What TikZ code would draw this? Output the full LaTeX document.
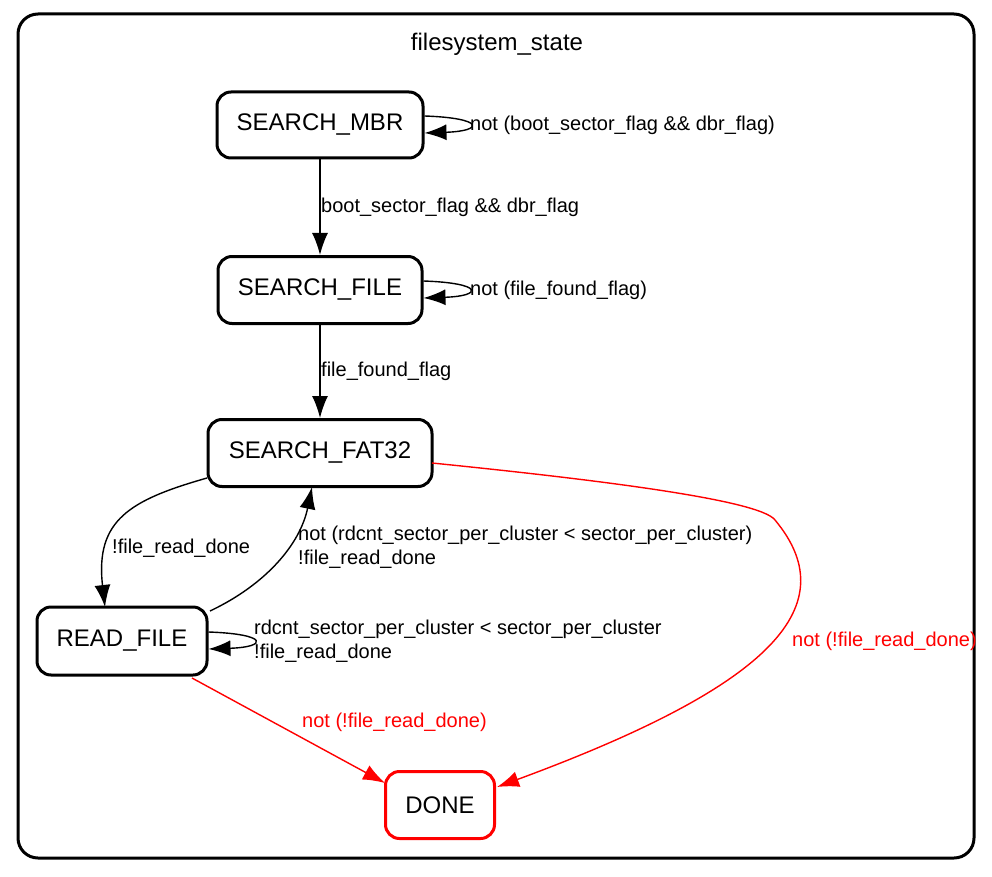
\documentclass[tikz,border=0pt]{standalone}
\usepackage{fontspec}
\setmainfont{Liberation Sans}
\usetikzlibrary{arrows.meta}
\begin{document}
\begin{tikzpicture}[x=1pt,y=-1pt,
  st/.style={draw,line width=3pt,rounded corners=14pt,font=\fontsize{24}{26}\selectfont,inner sep=0pt},
  e/.style={line width=1.4pt,-{Latex[length=22pt,width=16pt]}},
  r/.style={e,red},
  lb/.style={font=\fontsize{20}{24}\selectfont,anchor=west,inner sep=0pt,align=left}]
\useasboundingbox (0,0) rectangle (992,877);
\draw[line width=3pt,rounded corners=20pt] (18,14) rectangle (974,858);
\node[font=\fontsize{24}{26}\selectfont] (title) at (497,44) {filesystem\_state};
\node[st,minimum width=206pt,minimum height=66pt] (mbr) at (320,125) {SEARCH\_MBR};
\node[st,minimum width=204pt,minimum height=67pt] (file) at (320,290) {SEARCH\_FILE};
\node[st,minimum width=224pt,minimum height=67pt] (fat) at (320,453) {SEARCH\_FAT32};
\node[st,minimum width=170pt,minimum height=68pt] (read) at (122,641) {READ\_FILE};
\node[st,draw=red,minimum width=109pt,minimum height=67pt] (done) at (440,805) {DONE};
% loops
\draw[e] ([yshift=9pt]mbr.east) .. controls +(60,2) and +(60,-2) .. ([yshift=-8pt]mbr.east);
\node[lb] (l1) at (470,125) {not (boot\_sector\_flag \&\& dbr\_flag)};
\draw[e] (mbr) -- (file);
\node[lb] (l2) at (321,207) {boot\_sector\_flag \&\& dbr\_flag};
\draw[e] ([yshift=9pt]file.east) .. controls +(60,2) and +(60,-2) .. ([yshift=-8pt]file.east);
\node[lb] (l3) at (470,290) {not (file\_found\_flag)};
\draw[e] (file) -- (fat);
\node[lb] (l4) at (321,371) {file\_found\_flag};
\coordinate (a1) at (207,478);
\coordinate (a2) at (105,607);
\draw[e] (a1) .. controls (130,500) and (95,520) .. (a2);
\node[lb] (l5) at (112,548) {!file\_read\_done};
\coordinate (b1) at (210,611);
\coordinate (b2) at (312,487);
\draw[e] (b1) .. controls (265,585) and (300,545) .. (b2);
\node[lb] (l6) at (298,547) {not (rdcnt\_sector\_per\_cluster < sector\_per\_cluster)\\!file\_read\_done};
\draw[e] ([yshift=9pt]read.east) .. controls +(60,2) and +(60,-2) .. ([yshift=-8pt]read.east);
\node[lb] (l7) at (254,641) {rdcnt\_sector\_per\_cluster < sector\_per\_cluster\\!file\_read\_done};
\coordinate (c1) at (192,678);
\coordinate (c2) at (385,783);
\draw[r] (c1) -- (c2);
\node[lb,red] (l8) at (302,722) {not (!file\_read\_done)};
\coordinate (d1) at (432,463);
\coordinate (d2) at (497,787);
\draw[r] (d1) .. controls (600,480) and (760,500) .. (775,520) .. controls (850,610) and (760,690) .. (d2);
\node[lb,red] (l9) at (792,641) {not (!file\_read\_done)};
\end{tikzpicture}
\end{document}
